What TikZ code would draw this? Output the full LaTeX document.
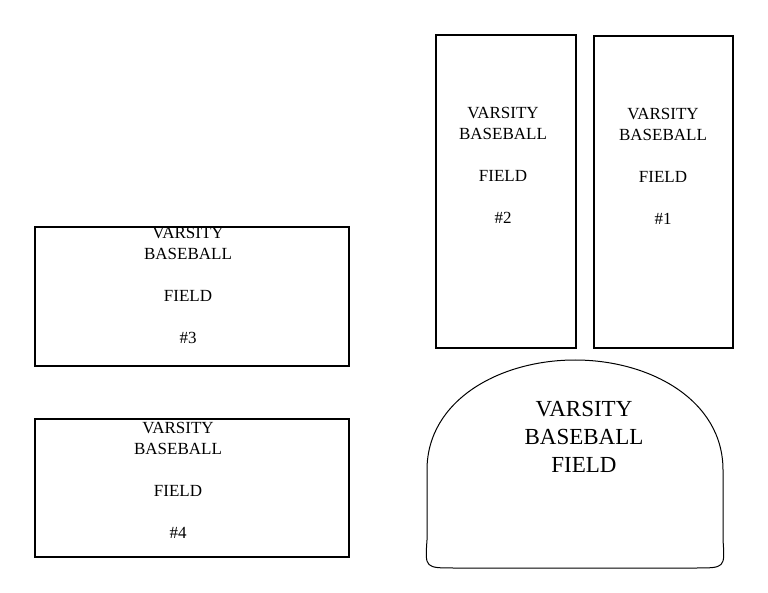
\documentclass[tikz,border=0pt]{standalone}
\usepackage{fontspec}
\setmainfont{Liberation Serif}
\begin{document}
\begin{tikzpicture}[x=1pt,y=-1pt,
  fieldbox/.style={draw,line width=2.4pt,inner sep=0pt},
  lbl/.style={font=\fontsize{17}{20}\selectfont,inner sep=0pt},
  big/.style={font=\fontsize{23}{27}\selectfont,inner sep=0pt}]
\useasboundingbox (0,0) rectangle (768,593);
\draw[fieldbox] (436,35) rectangle (576,348);
\draw[fieldbox] (594,36) rectangle (733,348);
\draw[fieldbox] (35,227) rectangle (349,366);
\draw[fieldbox] (35,419) rectangle (349,557);
\draw[line width=1pt] (427,470) .. controls (427,400) and (500,360) .. (575,360)
  .. controls (650,360) and (723,400) .. (723,470) -- (723,540)
  .. controls (725,568) .. (695,568) -- (455,568) .. controls (425,568) .. (427,540) -- cycle;
\foreach \n/\x/\y/\t in {a/503/113/VARSITY,b/503/134/BASEBALL,c/503/176/FIELD,d/503/218/\#2,
  e/663/114/VARSITY,f/663/135/BASEBALL,g/663/177/FIELD,h/663/219/\#1,
  i/188/233/VARSITY,j/188/254/BASEBALL,k/188/296/FIELD,l/188/338/\#3,
  m/178/428/VARSITY,n/178/449/BASEBALL,o/178/491/FIELD,p/178/533/\#4}
  \node[lbl] (t\n) at (\x,\y) {\t};
\node[big] (ba) at (584,409) {VARSITY};
\node[big] (bb) at (584,437) {BASEBALL};
\node[big] (bc) at (584,465) {FIELD};
\end{tikzpicture}
\end{document}
